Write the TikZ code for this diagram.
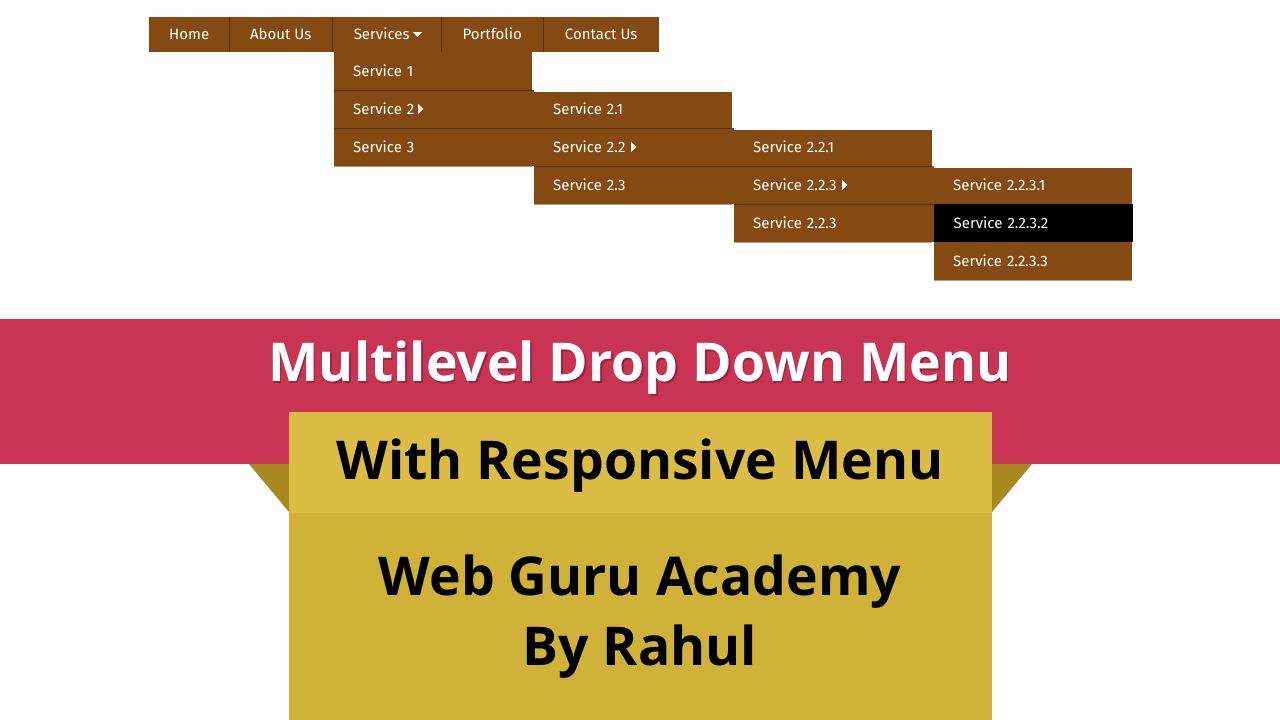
\documentclass[tikz,border=0pt]{standalone}
\usepackage{fontspec}
\setmainfont{Fira Sans}
\newfontfamily\bigfont{Open Sans}
\definecolor{menubrown}{HTML}{844A12}
\definecolor{menuline}{HTML}{5A2E06}
\definecolor{menuedge}{HTML}{BB9A78}
\definecolor{bandred}{HTML}{C93455}
\definecolor{goldlight}{HTML}{DBBD45}
\definecolor{golddark}{HTML}{CFB238}
\definecolor{goldfold}{HTML}{A68A20}
\tikzset{
  topitem/.style={fill=menubrown,text=white,anchor=north west,inner sep=0pt,minimum height=35pt,text height=13.5pt,text depth=3pt,font=\fontsize{15}{17}\selectfont},
  rowitem/.style={fill=menubrown,text=white,anchor=north west,inner xsep=19pt,inner ysep=0pt,minimum height=38pt,text width=160pt,text height=14pt,text depth=3pt,align=left,font=\fontsize{15}{17}\selectfont},
  firstrow/.style={rowitem,minimum height=36pt,text height=13pt},
  panel/.style={anchor=north west,inner sep=0pt,minimum width=703pt},
  bigtext/.style={font=\fontsize{53.5}{70}\selectfont\bigfont\bfseries,align=center},
  sep/.style={menuline,line width=.8pt},
  edge/.style={menuedge,line width=.8pt}
}
\begin{document}
\begin{tikzpicture}[x=1pt,y=-1pt]
\useasboundingbox (0,0) rectangle (1280,720);
% top bar
\node[topitem,minimum width=80pt] (home) at (149,17){Home};
\node[topitem,minimum width=103pt] (about) at (229,17){About Us};
\node[topitem,minimum width=109pt] (services) at (332,17){\hspace*{-10pt}Services};
\node[topitem,minimum width=102pt] (portfolio) at (441,17){Portfolio};
\node[topitem,minimum width=116pt] (contact) at (543,17){Contact Us};
\draw[sep] (home.north east)--(home.south east);
\draw[sep] (about.north east)--(about.south east);
\draw[sep] (services.north east)--(services.south east);
\draw[sep] (portfolio.north east)--(portfolio.south east);
\fill[white] (413,32)--(422,32)--(417.5,37)--cycle;
% level 4
\node[firstrow] (s2231) at (934,167.5){Service 2.2.3.1};
\node[rowitem,fill=black,minimum width=199pt] (s2232) at (934,204){Service 2.2.3.2};
\node[rowitem] (s2233) at (934,242){Service 2.2.3.3};
% level 3
\node[firstrow] (s221) at (734,129.5){Service 2.2.1};
\node[rowitem,text width=162pt] (s223) at (734,166){Service 2.2.3};
\node[rowitem,text width=162pt] (s223b) at (734,204){Service 2.2.3};
% level 2
\node[firstrow] (s21) at (534,91.5){Service 2.1};
\node[rowitem,text width=162pt] (s22) at (534,128){Service 2.2};
\node[rowitem] (s23) at (534,166){Service 2.3};
\fill[menubrown] (s23.north east) rectangle ([xshift=2pt]s23.south east);
% level 1
\node[rowitem] (s1) at (334,52){Service 1};
\node[rowitem,text width=162pt] (s2) at (334,90){Service 2};
\node[rowitem,text width=162pt] (s3) at (334,128){Service 3};
\draw[sep] (s1.south west)--(s1.south east);
\draw[sep] (s2.south west)--(s2.south east);
\draw[sep] (s21.south west)--(s21.south east);
\draw[sep] (s22.south west)--(s22.south east);
\draw[sep] (s221.south west)--(s221.south east);
\draw[sep] (s223.south west)--(s223.south east);
\draw[edge] (s3.south west)--([xshift=-2pt]s3.south east);
\draw[edge] (s23.south west)--(s23.south east);
\draw[edge] (s223b.south west)--([xshift=-2pt]s223b.south east);
\draw[edge] (s2233.south west)--(s2233.south east);
\fill[white] (418,104)--(423.5,109)--(418,114)--cycle;
\fill[white] (631,142)--(636.5,147)--(631,152)--cycle;
\fill[white] (842,180)--(847.5,185)--(842,190)--cycle;
% banner
\node[fill=bandred,anchor=north west,inner sep=0pt,minimum width=1280pt,minimum height=145pt] (band) at (0,319){};
\fill[goldfold] (249,464)--(289,464)--(289,512)--cycle;
\fill[goldfold] (1032,464)--(992,464)--(992,512)--cycle;
\node[bigtext,text=black,text opacity=.25] (titleshade) at (641.5,370){Multilevel Drop Down Menu};
\node[bigtext,text=white] (title) at (640,368){Multilevel Drop Down Menu};
\node[panel,fill=goldlight,minimum height=101pt] (resp) at (289,412){};
\node[bigtext] (resptext) at (640,466){With Responsive Menu};
\node[panel,fill=golddark,minimum height=207pt] (lower) at (289,513){};
\node[bigtext] (academy) at (640,617){Web Guru Academy\\By Rahul};
\end{tikzpicture}
\end{document}
